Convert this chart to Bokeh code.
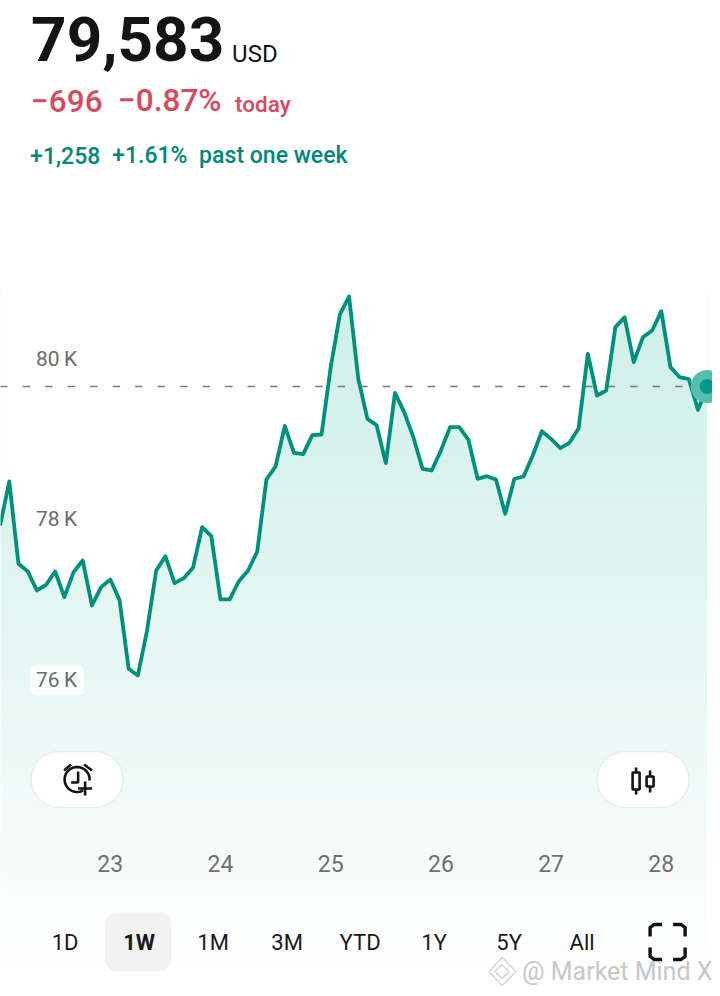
import numpy as np
from bokeh.embed import file_html
from bokeh.models import FixedTicker, Label, LinearAxis, Range1d
from bokeh.plotting import figure
from bokeh.resources import INLINE

# ---- data ----
prices = [77852, 78400, 77375, 77283, 77043, 77113, 77279, 76960, 77271, 77416,
          76856, 77084, 77180, 76926, 76067, 75984, 76544, 77292, 77470, 77134,
          77196, 77325, 77831, 77719, 76931, 76931, 77159, 77292, 77528, 78425,
          78587, 79093, 78757, 78740, 78977, 78985, 79824, 80480, 80704, 79683,
          79180, 79101, 78628, 79504, 79263, 78952, 78558, 78537, 78786, 79077,
          79077, 78919, 78433, 78466, 78425, 77997, 78433, 78462, 78724, 79027,
          78931, 78815, 78881, 79064, 79990, 79471, 79533, 80322, 80446, 79886,
          80197, 80280, 80521, 79824, 79699, 79674, 79292, 79583]
samples_per_day = 12
first_day = 22
day_ticks = [23, 24, 25, 26, 27, 28]
day_labels = ["23", "24", "25", "26", "27", "28"]
price_ticks = [76000, 78000, 80000]
price_labels = ["76\u2009K", "78\u2009K", "80\u2009K"]
last_price = 79583
ranges = ["1D", "1W", "1M", "3M", "YTD", "1Y", "5Y", "All"]
range_centers = [65, 139, 213, 287, 360, 434, 509, 582]

# ---- pixel <-> data helpers for the decoration around the chart ----
PX_PER_DAY = 110.2
VAL_PER_PX = 12.453
W, H = 712, 988
def X(px):
    return first_day + np.asarray(px, dtype=float) / PX_PER_DAY
def Y(py):
    return 80000 + (352.5 - np.asarray(py, dtype=float)) * VAL_PER_PX

days = first_day + np.arange(len(prices)) / samples_per_day
vals = np.array(prices, dtype=float)

p = figure(width=W, height=H, output_backend="svg", toolbar_location=None,
           x_range=Range1d(float(X(0.4)), float(X(W + 0.4))), y_range=Range1d(float(Y(H)), float(Y(0))),
           x_axis_location=None, y_axis_location=None, min_border=0,
           background_fill_color="white", border_fill_color="white", outline_line_color=None)
p.grid.visible = False
# tick labels sit 5.5 px under the level they name
LABEL_DROP = 5.5
p.extra_y_ranges = {"labels": Range1d(float(Y(H - LABEL_DROP)), float(Y(-LABEL_DROP)))}

# vertical gradient under the curve
band_tops = np.arange(290, H, 6)
def band_color(py):
    t = np.clip((py - 290) / 670.0, 0, 1)
    c0 = np.array([207, 240, 233]); c1 = np.array([255, 255, 255])
    c = (c0 + (c1 - c0) * t ** 1.15).astype(int)
    return "#%02x%02x%02x" % tuple(c)
band_cols = [band_color(py) for py in band_tops]
p.quad(left=float(X(-6)), right=float(X(W + 1)), top=Y(band_tops), bottom=Y(band_tops + 6),
       fill_color=band_cols, line_color=band_cols, line_width=0.5)
# white above the curve and right of the last sample
p.varea(x=np.r_[float(X(-12)), days], y1=np.r_[vals[0], vals], y2=float(Y(0)), fill_color="white")
p.quad(left=days[-1], right=float(X(W + 10)), top=float(Y(0)), bottom=float(Y(H + 5)),
       fill_color="white", line_color=None)

# reference price dashes
starts = np.arange(0, 700, 22.5)
p.segment(x0=X(starts), x1=X(starts + 7.5), y0=last_price, y1=last_price,
          line_color="#7d7d7d", line_width=1.6)

# price line + last point
p.line(days, vals, line_color="#00917d", line_width=3.8, line_join="round")
p.scatter([days[-1]], [last_price], size=33, fill_color="#55bfae", line_color=None)
p.scatter([days[-1]], [last_price], size=15, fill_color="#009a85", line_color=None)

# white plate behind the 76 K label
p.quad(left=float(X(30)), right=float(X(84)), top=float(Y(664)), bottom=float(Y(695)),
       fill_color="white", fill_alpha=0.75, line_color=None, border_radius=6)

# axes placed inside the frame
yaxis = LinearAxis(fixed_location=float(X(88)), y_range_name="labels", ticker=FixedTicker(ticks=price_ticks),
                   major_label_overrides=dict(zip(price_ticks, price_labels)),
                   axis_line_color=None, major_tick_line_color=None, minor_tick_line_color=None,
                   major_label_standoff=5, major_label_text_font="Roboto",
                   major_label_text_font_size="21px", major_label_text_color="#6b6b6b")
p.add_layout(yaxis, "left")
xaxis = LinearAxis(fixed_location=float(Y(843)), ticker=FixedTicker(ticks=day_ticks),
                   major_label_overrides=dict(zip(day_ticks, day_labels)),
                   axis_line_color=None, major_tick_line_color=None, minor_tick_line_color=None,
                   major_label_standoff=5, major_label_text_font="Roboto",
                   major_label_text_font_size="23px", major_label_text_color="#707070")
p.add_layout(xaxis, "below")

# header and range text: py is the vertical centre of the letters
def T(px, py, s, size, color, bold=False, align="left", font="Roboto"):
    p.add_layout(Label(x=float(X(px)), y=float(Y(py)), text=s, text_font=font,
                       text_font_size=f"{size}px", text_color=color,
                       text_font_style="bold" if bold else "normal",
                       text_align=align, text_baseline="alphabetic"))

T(31, 38.5, "79,583", 62, "#141414", bold=True)
T(232, 53, "USD", 24, "#141414")
T(31, 100, "\u2212696", 31.5, "#d9485e", font="Roboto Medium")
T(118, 100, "\u22120.87%", 31.5, "#d9485e", font="Roboto Medium")
T(235, 103, "today", 22.5, "#d9485e", font="Roboto Medium")
T(30, 155, "+1,258", 23, "#00897b", font="Roboto Medium")
T(112, 155, "+1.61%", 23, "#00897b", font="Roboto Medium")
T(199, 155, "past one week", 23, "#00897b", font="Roboto Medium")

# pill buttons
for l, r in [(31, 123), (597, 689)]:
    p.quad(left=float(X(l)), right=float(X(r)), top=float(Y(751)), bottom=float(Y(807)),
           fill_color="white", line_color="#e9eeed", line_width=1.5, border_radius=28)

# alarm icon
ink = "#151515"
ang = np.radians(np.arange(-5, 300, 8))
p.line(X(77 + 12.5 * np.cos(ang)), Y(779 - 12.5 * np.sin(ang)), line_color=ink, line_width=2.6)
icon_lines = [
    ([64, 71], [770, 764]), ([84, 92], [764, 770]),
    ([78, 78, 71], [771, 782, 782]),
    ([85, 85], [781, 795]), ([78, 92], [788, 788]),
    # candle wicks
    ([636, 636], [767, 772]), ([636, 636], [789, 794]),
    ([650, 650], [770, 776]), ([650, 650], [786, 792]),
]
p.multi_line([X(a).tolist() for a, _ in icon_lines], [Y(b).tolist() for _, b in icon_lines],
             line_color=ink, line_width=2.6)
p.quad(left=X([632.5, 646.5]), right=X([639.5, 653.5]), top=Y([772, 776]), bottom=Y([789, 786]),
       fill_color=None, line_color=ink, line_width=2.6)

# range selector
p.quad(left=float(X(105)), right=float(X(171)), top=float(Y(912)), bottom=float(Y(971)),
       fill_color="#f2f2f2", line_color=None, border_radius=12)
for s, c in zip(ranges, range_centers):
    T(c, 942, s, 22, "#1a1a1a", bold=(s == "1W"), align="center")

# full-screen corners
corners = [
    ([650, 650, 654, 662], [936, 927, 924, 924]), ([673, 681, 685, 685], [924, 924, 927, 936]),
    ([650, 650, 654, 662], [947, 956, 959, 959]), ([673, 681, 685, 685], [959, 959, 956, 947]),
]
p.multi_line([X(a).tolist() for a, _ in corners], [Y(b).tolist() for _, b in corners],
             line_color="#111111", line_width=3.4, line_join="round")

# watermark
logo = [
    ([502, 516, 502, 489, 502], [957, 971, 985, 971, 957]),
    ([502, 509, 502, 495, 502], [964, 971, 978, 971, 964]),
]
p.multi_line([X(a).tolist() for a, _ in logo], [Y(b).tolist() for _, b in logo],
             line_color="#d4d8d8", line_width=1.6)
T(522, 971, "@ Market Mind X", 25, "#c4c8c8")

open("out.html", "w").write(file_html(p, INLINE))
